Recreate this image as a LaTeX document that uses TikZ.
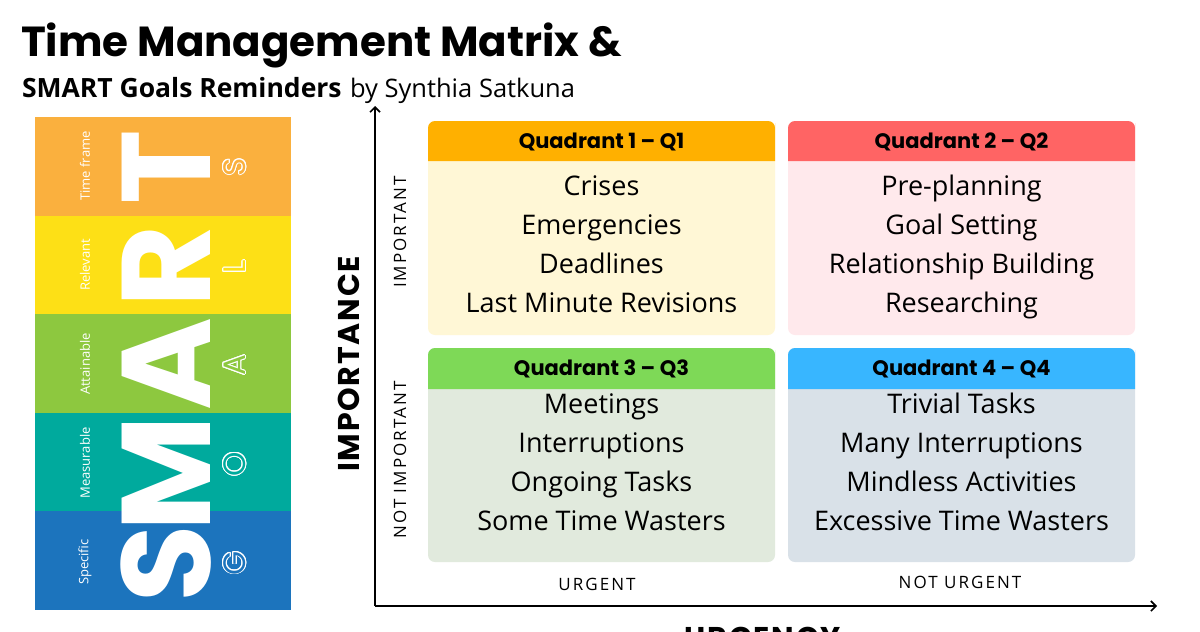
\documentclass[tikz,border=0pt]{standalone}
\usepackage{fontspec}
\usepackage{contour}
\usetikzlibrary{arrows.meta}
\setmainfont{Open Sans}
\newfontfamily\pop{Poppins}
\newfontfamily\popls[LetterSpace=6]{Poppins}
\newfontfamily\osls[LetterSpace=12]{Open Sans}
\contourlength{0.9pt}
\definecolor{bT}{HTML}{FAB03E}
\definecolor{bR}{HTML}{FDE016}
\definecolor{bA}{HTML}{8DC83F}
\definecolor{bM}{HTML}{00AA9D}
\definecolor{bS}{HTML}{1C74BD}
\definecolor{hA}{HTML}{FFB000}
\definecolor{bdA}{HTML}{FFF7D6}
\definecolor{hB}{HTML}{FF6464}
\definecolor{bdB}{HTML}{FFE9EC}
\definecolor{hC}{HTML}{7ED957}
\definecolor{bdC}{HTML}{E1EADD}
\definecolor{hD}{HTML}{38B6FF}
\definecolor{bdD}{HTML}{D9E1E8}
\begin{document}
\begin{tikzpicture}[x=1pt,y=-1pt,
  every node/.style={inner sep=0pt,outer sep=0pt},
  band/.style={anchor=north west,minimum width=256pt,minimum height=98.6pt},
  biglet/.style={rotate=90,white,font=\pop\bfseries\fontsize{126}{126}\selectfont},
  outlet/.style={rotate=90,font=\pop\fontsize{31}{31}\selectfont},
  smalllab/.style={rotate=90,white,font=\fontsize{13}{15}\selectfont},
  qbody/.style={anchor=north west,minimum width=347pt,minimum height=214pt,rounded corners=7pt},
  qhead/.style={font=\pop\bfseries\fontsize{21}{24}\selectfont},
  qline/.style={anchor=base,font=\fontsize{27}{31}\selectfont},
  axis/.style={line width=1.6pt,-{Straight Barb[length=5pt,width=10pt]}},
  axlab/.style={font=\osls\fontsize{17}{20}\selectfont},
  axtitle/.style={font=\popls\bfseries\fontsize{30}{32}\selectfont}
]
\clip (0,0) rectangle (1200,632);
\fill[white] (0,0) rectangle (1200,632);

% Title
\node[anchor=base west,font=\pop\bfseries\fontsize{42}{46}\selectfont] (title) at (21,56) {Time Management Matrix \&};
\node[anchor=base west,font=\bfseries\fontsize{26.5}{29}\selectfont] (sub) at (22,97) {SMART Goals Reminders};
\node[anchor=base west,font=\fontsize{25.5}{28}\selectfont] (by) at (350,97) {by Synthia Satkuna};

% SMART bar
\node[band,fill=bT] (bandT) at (35,117) {};
\node[band,fill=bR] (bandR) at (35,215.6) {};
\node[band,fill=bA] (bandA) at (35,314.2) {};
\node[band,fill=bM] (bandM) at (35,412.8) {};
\node[band,fill=bS] (bandS) at (35,511.4) {};

\node[smalllab] (lT) at (85,166) {Time frame};
\node[smalllab] (lR) at (85,265) {Relevant};
\node[smalllab] (lA) at (85,364) {Attainable};
\node[smalllab] (lM) at (85,463) {Measurable};
\node[smalllab] (lS) at (85,562) {Specific};

\node[biglet] (T) at (166,167) {T};
\node[biglet] (R) at (166,266) {R};
\node[biglet] (A) at (166,364) {A};
\node[biglet] (M) at (166,474) {M};
\node[biglet] (S) at (166,564) {S};

\node[outlet] (oS) at (235,167) {\contour{white}{\textcolor{bT}{S}}};
\node[outlet] (oL) at (235,267) {\contour{white}{\textcolor{bR}{L}}};
\node[outlet] (oA) at (235,365) {\contour{white}{\textcolor{bA}{A}}};
\node[outlet] (oO) at (235,464) {\contour{white}{\textcolor{bM}{O}}};
\node[outlet] (oG) at (235,563) {\contour{white}{\textcolor{bS}{G}}};

% Axes
\coordinate (O) at (375,606);
\coordinate (Ytop) at (375,106);
\coordinate (Xend) at (1157,606);
\draw[axis] (O) -- (Ytop);
\draw[axis] (O) -- (Xend);
\node[axtitle,rotate=90] (imp) at (349,364) {IMPORTANCE};
\node[axlab,rotate=90] (impt) at (400,232) {IMPORTANT};
\node[axlab,rotate=90] (nimpt) at (400,460) {NOT IMPORTANT};
\node[axlab] (urg) at (597,584) {URGENT};
\node[axlab] (nurg) at (960,582) {NOT URGENT};
\node[axtitle,anchor=base] (urgency) at (763,648) {URGENCY};

% Quadrant 1
\node[qbody,fill=bdA] (q1) at (428,121) {};
\fill[hA] (428,161) {[rounded corners=7pt] -- (428,121) -- (775,121) -- (775,130)} -- (775,161) -- cycle;
\node[qhead] (h1) at (601.5,142) {Quadrant 1 – Q1};
\node[qline] (l11) at (601.5,195) {Crises};
\node[qline] (l12) at (601.5,234) {Emergencies};
\node[qline] (l13) at (601.5,273) {Deadlines};
\node[qline] (l14) at (601.5,312) {Last Minute Revisions};

% Quadrant 2
\node[qbody,fill=bdB] (q2) at (788,121) {};
\fill[hB] (788,161) {[rounded corners=7pt] -- (788,121) -- (1135,121) -- (1135,130)} -- (1135,161) -- cycle;
\node[qhead] (h2) at (961.5,142) {Quadrant 2 – Q2};
\node[qline] (l21) at (961.5,195) {Pre-planning};
\node[qline] (l22) at (961.5,234) {Goal Setting};
\node[qline] (l23) at (961.5,273) {Relationship Building};
\node[qline] (l24) at (961.5,312) {Researching};

% Quadrant 3
\node[qbody,fill=bdC] (q3) at (428,348) {};
\fill[hC] (428,389) {[rounded corners=7pt] -- (428,348) -- (775,348) -- (775,357)} -- (775,389) -- cycle;
\node[qhead] (h3) at (601.5,369) {Quadrant 3 – Q3};
\node[qline] (l31) at (601.5,413) {Meetings};
\node[qline] (l32) at (601.5,452) {Interruptions};
\node[qline] (l33) at (601.5,491) {Ongoing Tasks};
\node[qline] (l34) at (601.5,530) {Some Time Wasters};

% Quadrant 4
\node[qbody,fill=bdD] (q4) at (788,348) {};
\fill[hD] (788,389) {[rounded corners=7pt] -- (788,348) -- (1135,348) -- (1135,357)} -- (1135,389) -- cycle;
\node[qhead] (h4) at (961.5,369) {Quadrant 4 – Q4};
\node[qline] (l41) at (961.5,413) {Trivial Tasks};
\node[qline] (l42) at (961.5,452) {Many Interruptions};
\node[qline] (l43) at (961.5,491) {Mindless Activities};
\node[qline] (l44) at (961.5,530) {Excessive Time Wasters};
\end{tikzpicture}
\end{document}
